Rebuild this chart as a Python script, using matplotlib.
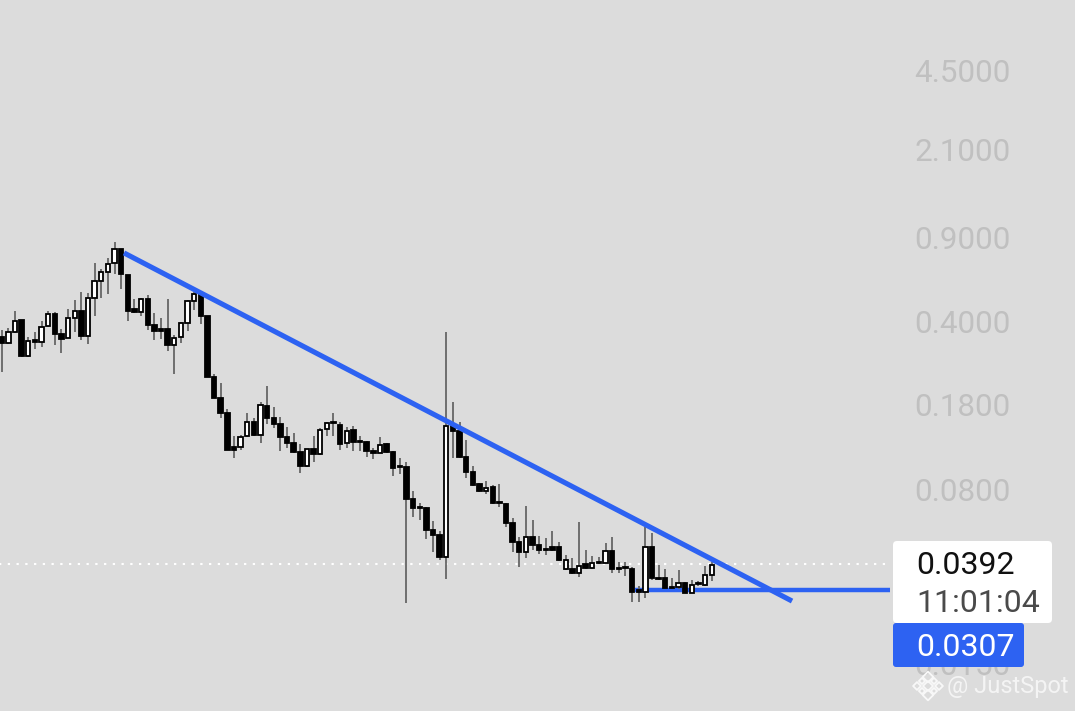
import matplotlib
matplotlib.use('Agg')
import matplotlib.pyplot as plt
from matplotlib.patches import FancyBboxPatch

# candle values
opens = [.349, .330, .366, .411, .291, .339, .333, .388, .436, .359,
         .346, .419, .448, .353, .508, .598, .652, .711, .813, .634,
         .457, .444, .503, .392, .377, .377, .323, .349, .400, .493,
         .528, .428, .237, .194, .168, .121, .121, .134, .154, .136,
         .180, .160, .151, .133, .126, .115, .101, .119, .113, .144,
         .154, .150, .126, .1425, .128, .127, .116, .114, .124, .115,
         .101, .100, .0734, .0680, .0673, .0544, .0520, .0420, .148, .141,
         .110, .0952, .0849, .0793, .0824, .0714, .0700, .0583, .0486, .0441,
         .0510, .0472, .0454, .0463, .0463, .0375, .0375, .0361, .0393, .0378,
         .0401, .0397, .0445, .0378, .0382, .0375, .0306, .0300, .0463, .0344,
         .0344, .0315, .0315, .0328, .0298, .0328, .0322, .0354]
highs = [.373, .381, .448, .411, .349, .366, .407, .448, .444, .377,
         .457, .498, .538, .533, .711, .671, .746, .870, .813, .634,
         .503, .508, .523, .440, .419, .503, .356, .403, .498, .538,
         .538, .428, .245, .224, .174, .134, .136, .168, .160, .187,
         .218, .178, .162, .147, .139, .124, .119, .134, .145, .154,
         .168, .154, .147, .148, .134, .128, .120, .133, .126, .116,
         .109, .105, .0793, .0707, .0680, .0594, .0539, .366, .187, .154,
         .1295, .101, .0857, .0873, .0841, .0849, .0707, .0611, .0510, .0687,
         .0599, .0515, .0505, .0539, .0486, .0429, .0416, .0588, .0449, .0424,
         .0420, .0481, .0510, .0401, .0401, .0382, .0318, .0561, .0529, .0389,
         .0375, .0344, .0371, .0331, .0337, .0334, .0386, .0401]
lows = [.249, .326, .363, .288, .288, .311, .317, .385, .323, .300,
        .346, .366, .339, .326, .428, .508, .528, .640, .553, .407,
        .440, .428, .373, .339, .342, .305, .245, .330, .370, .452,
        .396, .237, .194, .160, .118, .109, .118, .133, .135, .126,
        .151, .145, .116, .120, .114, .0943, .100, .105, .112, .134,
        .134, .118, .120, .116, .116, .110, .108, .114, .114, .0917,
        .0934, .0270, .0617, .0599, .0500, .0441, .0408, .0340, .109, .109,
        .0899, .0832, .0785, .0771, .0700, .0680, .0561, .0441, .0382, .0416,
        .0449, .0433, .0429, .0445, .0404, .0371, .0357, .0347, .0375, .0375,
        .0393, .0397, .0361, .0361, .0351, .0273, .0273, .0284, .0337, .0337,
        .0309, .0309, .0309, .0298, .0298, .0318, .0318, .0334]
closes = [.330, .366, .407, .291, .336, .333, .385, .436, .359, .342,
          .419, .448, .353, .508, .598, .652, .704, .813, .640, .448,
          .444, .503, .392, .370, .370, .323, .346, .400, .493, .528,
          .428, .237, .194, .168, .118, .118, .133, .154, .136, .182,
          .160, .151, .133, .126, .115, .101, .119, .113, .1425, .153,
          .153, .124, .141, .127, .127, .116, .114, .123, .115, .099,
          .100, .0734, .0673, .0673, .0544, .0520, .0420, .148, .141, .110,
          .0952, .0841, .0793, .0816, .0707, .0707, .0583, .0486, .0441, .0510,
          .0472, .0449, .0449, .0449, .0408, .0408, .0361, .0386, .0378, .0397,
          .0397, .0445, .0375, .0375, .0378, .0300, .0300, .0463, .0344, .0340,
          .0312, .0312, .0328, .0298, .0322, .0325, .0354, .0389]

tick_values = [4.5, 2.1, 0.9, 0.4, 0.18, 0.08, 0.015]
tick_labels = ['4.5000', '2.1000', '0.9000', '0.4000', '0.1800', '0.0800', '0.0150']

trend_x = [18.43, 119.1]
trend_y = [0.783, 0.0275]
support_x = [95.4, 133.9]
support_price = 0.0307
last_price = 0.0392

bg = '#dcdcdc'
blue = '#2d62f2'
plt.rcParams['font.family'] = ['Roboto', 'DejaVu Sans']

fig = plt.figure(figsize=(10.75, 7.11), dpi=100, facecolor=bg)
ax = fig.add_axes([0, 0, 1, 1], facecolor=bg)
ax.set_yscale('log')
ax.set_xlim(-0.256, 161.74)
ax.set_ylim(0.00955, 8.92)
ax.set_axis_off()

# price scale
for v, lab in zip(tick_values, tick_labels):
    ax.annotate(lab, (137.5, v), xytext=(0, -1.5), textcoords='offset points',
                color='#c0c0c0', fontsize=22.6, va='center', ha='left', zorder=1)

ax.plot([-1, 133.9], [last_price, last_price], color='white', lw=1.5,
        dashes=(1.1, 3.1), zorder=1.5)
ax.plot(support_x, [support_price, support_price], color=blue, lw=3.2, zorder=2,
        solid_capstyle='butt')

# candles
xs = list(range(len(opens)))
ax.vlines(xs, lows, highs, color='#666666', lw=1.3, zorder=3)
for i in xs:
    up = closes[i] > opens[i]
    low_body = min(opens[i], closes[i])
    high_body = max(opens[i], closes[i])
    ax.bar(i, high_body - low_body, bottom=low_body, width=0.66,
           color='white' if up else 'black', edgecolor='black', lw=1.3, zorder=4)

ax.plot(trend_x, trend_y, color=blue, lw=3.7, zorder=5, solid_capstyle='butt')

# labels on the right, in picture pixels
over = fig.add_axes([0, 0, 1, 1])
over.set_xlim(0, 1075)
over.set_ylim(711, 0)
over.set_axis_off()

over.add_patch(FancyBboxPatch((895, 543), 155, 78, boxstyle='round,pad=2,rounding_size=4',
                              fc='white', ec='none', zorder=6))
over.add_patch(FancyBboxPatch((895, 625), 127, 40, boxstyle='round,pad=2,rounding_size=3',
                              fc=blue, ec='none', zorder=6))
over.text(916, 566, '0.0392', color='#111111', fontsize=23, va='center', zorder=7)
over.text(916, 603, '11:01:04', color='#4a4a4a', fontsize=23, va='center', zorder=7)
over.text(916, 647, '0.0307', color='white', fontsize=23, va='center', zorder=7)

# watermark
logo_x = [928, 917, 939, 928, 922, 934, 922, 934, 928]
logo_y = [677, 686, 686, 695, 681, 681, 691, 691, 686]
logo_s = [30, 16, 16, 30, 10, 10, 10, 10, 26]
over.scatter(logo_x, logo_y, s=logo_s, marker='D', facecolor='none', edgecolor='#f8f8f8',
             lw=1.3, zorder=7)
over.text(947, 686, '@ JustSpot', color='#f4f4f4', fontsize=17, va='center', zorder=7)

fig.savefig('out.png', dpi=100, facecolor=bg)
